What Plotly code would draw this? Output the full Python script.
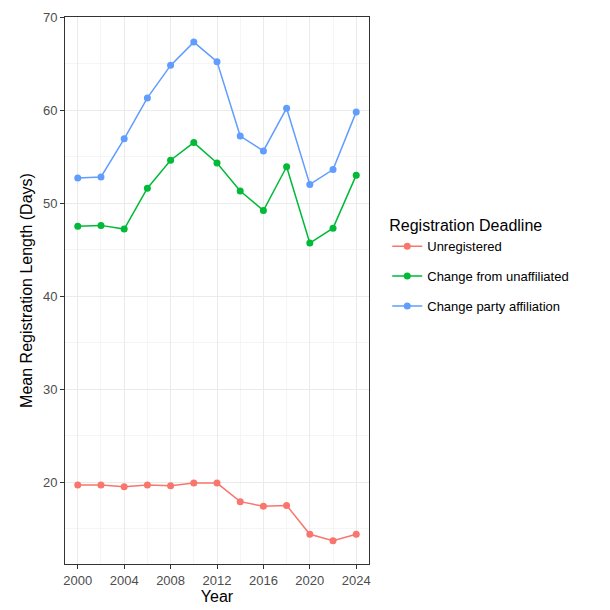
import plotly.graph_objects as go

years = [2000, 2002, 2004, 2006, 2008, 2010, 2012, 2014, 2016, 2018, 2020, 2022, 2024]
unregistered = [19.7, 19.7, 19.5, 19.7, 19.6, 19.9, 19.9, 17.9, 17.4, 17.5, 14.4, 13.7, 14.4]
change_unaff = [47.5, 47.6, 47.2, 51.6, 54.6, 56.5, 54.3, 51.3, 49.2, 53.9, 45.7, 47.3, 53.0]
change_party = [52.7, 52.8, 56.9, 61.3, 64.8, 67.3, 65.2, 57.2, 55.6, 60.2, 52.0, 53.6, 59.8]

series = [("Unregistered", unregistered, "#F8766D"),
          ("Change from unaffiliated", change_unaff, "#00BA38"),
          ("Change party affiliation", change_party, "#619CFF")]

fig = go.Figure()
for name, vals, col in series:
    fig.add_trace(go.Scatter(x=years, y=vals, mode="lines+markers", name=name, legendgroup=name,
                             line=dict(color=col, width=1.5), marker=dict(color=col, size=7)))

ax = dict(showline=True, linecolor="#333333", mirror=True, linewidth=1, automargin=False,
          gridcolor="#EBEBEB", gridwidth=1, ticks="outside", tickcolor="#333333",
          ticklen=4, tickfont=dict(size=13, color="#4D4D4D"), zeroline=False,
          minor=dict(showgrid=True, gridcolor="#F5F5F5", gridwidth=0.6))
fig.update_xaxes(**ax, range=[1998.9, 2025.1], tickvals=list(range(2000, 2025, 4)),
                 title=dict(text="Year", font=dict(size=16, color="black"), standoff=2))
fig.update_xaxes(minor=dict(tickvals=list(range(2002, 2025, 4)), ticks=""))
fig.update_yaxes(**ax, range=[11.2, 70], tickvals=[20, 30, 40, 50, 60, 70],
                 title=dict(text="Mean Registration Length (Days)", font=dict(size=16, color="black"), standoff=6))
fig.update_yaxes(minor=dict(tickvals=[15, 25, 35, 45, 55, 65], ticks=""))
fig.update_layout(width=610, height=610, plot_bgcolor="white", paper_bgcolor="white",
                  margin=dict(l=57, r=249, t=9, b=54, autoexpand=False),
                  font=dict(family="Liberation Sans, Arial"),
                  legend=dict(title=dict(text="Registration Deadline", font=dict(size=16, color="black")),
                              font=dict(size=13, color="black"), x=1.06, y=0.545, yanchor="middle",
                              tracegroupgap=10))
fig.write_html("out.html")
